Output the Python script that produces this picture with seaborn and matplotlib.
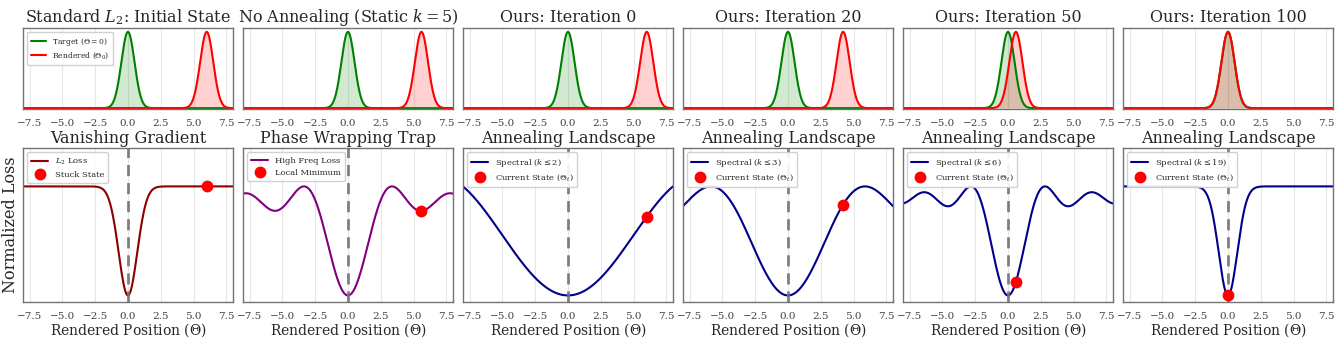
import numpy as np
import pandas as pd
import matplotlib
matplotlib.use("Agg")
import matplotlib.pyplot as plt
import seaborn as sns

# ---------------- data ----------------
top_titles = ["Standard $L_2$: Initial State", "No Annealing (Static $k=5$)",
              "Ours: Iteration 0", "Ours: Iteration 20", "Ours: Iteration 50",
              "Ours: Iteration 100"]
bottom_titles = ["Vanishing Gradient", "Phase Wrapping Trap", "Annealing Landscape",
                 "Annealing Landscape", "Annealing Landscape", "Annealing Landscape"]
rendered_pos = [6.0, 5.6, 6.0, 4.2, 0.6, 0.0]          # Theta of the rendered Gaussian
k_cutoff = [None, 5, 2, 3, 6, 19]                       # spectral cutoff (None = full L2)
loss_labels = ["$L_2$ Loss", "High Freq Loss", "Spectral ($k \\leq 2$)",
               "Spectral ($k \\leq 3$)", "Spectral ($k \\leq 6$)", "Spectral ($k \\leq 19$)"]
dot_labels = ["Stuck State", "Local Minimum", "Current State ($\\Theta_t$)",
              "Current State ($\\Theta_t$)", "Current State ($\\Theta_t$)",
              "Current State ($\\Theta_t$)"]
loss_colors = ["darkred", "purple", "darkblue", "darkblue", "darkblue", "darkblue"]
sigma = 0.5            # Gaussian width
period = 20.0          # periodic domain length for the spectrum
xticks = [-7.5, -5.0, -2.5, 0.0, 2.5, 5.0, 7.5]

# ---------------- helpers ----------------
theta = np.linspace(-8, 8, 801)


def gaussian(x, mu):
    return np.exp(-(x - mu) ** 2 / (2 * sigma ** 2))


def loss_curve(t, k):
    if k is None:
        return 1 - np.exp(-t ** 2 / (4 * sigma ** 2))
    total = np.zeros_like(t)
    for n in range(1, k):
        w = 2 * np.pi * n / period
        total += np.exp(-(sigma * w) ** 2) * (1 - np.cos(w * t))
    return total


def normalized(k):
    full = loss_curve(theta, k)
    lo, hi = full.min(), full.max()
    return (full - lo) / (hi - lo), lo, hi


# ---------------- style ----------------
sns.set_theme(style="whitegrid")
plt.rcParams.update({
    "font.family": ["DejaVu Serif"],
    "mathtext.fontset": "dejavuserif",
    "axes.edgecolor": "0.45",
    "axes.linewidth": 1.0,
    "grid.color": "0.9",
    "grid.linewidth": 0.8,
    "xtick.labelsize": 7.5,
    "xtick.color": "0.25",
})

fig = plt.figure(figsize=(13.42, 3.42), dpi=100)
gs = fig.add_gridspec(2, 6, height_ratios=[81, 154], left=0.0171, right=0.9933,
                      top=0.918, bottom=0.117, wspace=0.0476, hspace=0.335)

for i in range(6):
    # ----- top row: signals -----
    ax = fig.add_subplot(gs[0, i])
    tgt = gaussian(theta, 0.0)
    ren = gaussian(theta, rendered_pos[i])
    sns.lineplot(x=theta, y=tgt, ax=ax, color="green", lw=1.5, label="Target ($\\Theta=0$)")
    sns.lineplot(x=theta, y=ren, ax=ax, color="red", lw=1.5, label="Rendered ($\\Theta_0$)")
    ax.fill_between(theta, tgt, color="green", alpha=0.18, lw=0)
    ax.fill_between(theta, ren, color="red", alpha=0.18, lw=0)
    ax.set_xlim(-8, 8)
    ax.set_ylim(-0.01, 1.05)
    ax.set_xticks(xticks)
    ax.set_yticks([])
    ax.grid(axis="y", visible=False)
    ax.tick_params(axis="x", pad=1)
    ax.set_title(top_titles[i], fontsize=11.5, pad=4)
    if i == 0:
        ax.legend(loc="upper left", fontsize=5.5, frameon=True, framealpha=0.9,
                  handlelength=2.0, borderpad=0.5, labelspacing=0.4)
    else:
        ax.get_legend().remove()

    # ----- bottom row: loss landscape -----
    axb = fig.add_subplot(gs[1, i])
    curve, lo, hi = normalized(k_cutoff[i])
    sns.lineplot(x=theta, y=curve, ax=axb, color=loss_colors[i], lw=1.5,
                 label=loss_labels[i])
    axb.axvline(0, color="0.45", ls="--", lw=2, alpha=0.9, dashes=(4, 2.5))
    p = rendered_pos[i]
    pv = (loss_curve(np.array([p]), k_cutoff[i]) - lo) / (hi - lo)
    axb.plot([p], pv, "o", color="red", ms=7.5, label=dot_labels[i], zorder=5)
    axb.set_xlim(-8, 8)
    axb.set_ylim(-0.06, 1.35)
    axb.set_xticks(xticks)
    axb.set_yticks([])
    axb.grid(axis="y", visible=False)
    axb.tick_params(axis="x", pad=1)
    axb.set_title(bottom_titles[i], fontsize=11.5, pad=4)
    axb.set_xlabel("Rendered Position ($\\Theta$)", fontsize=10, labelpad=0.5)
    if i == 0:
        axb.set_ylabel("Normalized Loss", fontsize=11.5, labelpad=3)
    axb.legend(loc="upper left", fontsize=6, frameon=True, framealpha=0.9,
               handlelength=2.0, borderpad=0.5, labelspacing=0.5)

fig.savefig("out.png", dpi=100)
